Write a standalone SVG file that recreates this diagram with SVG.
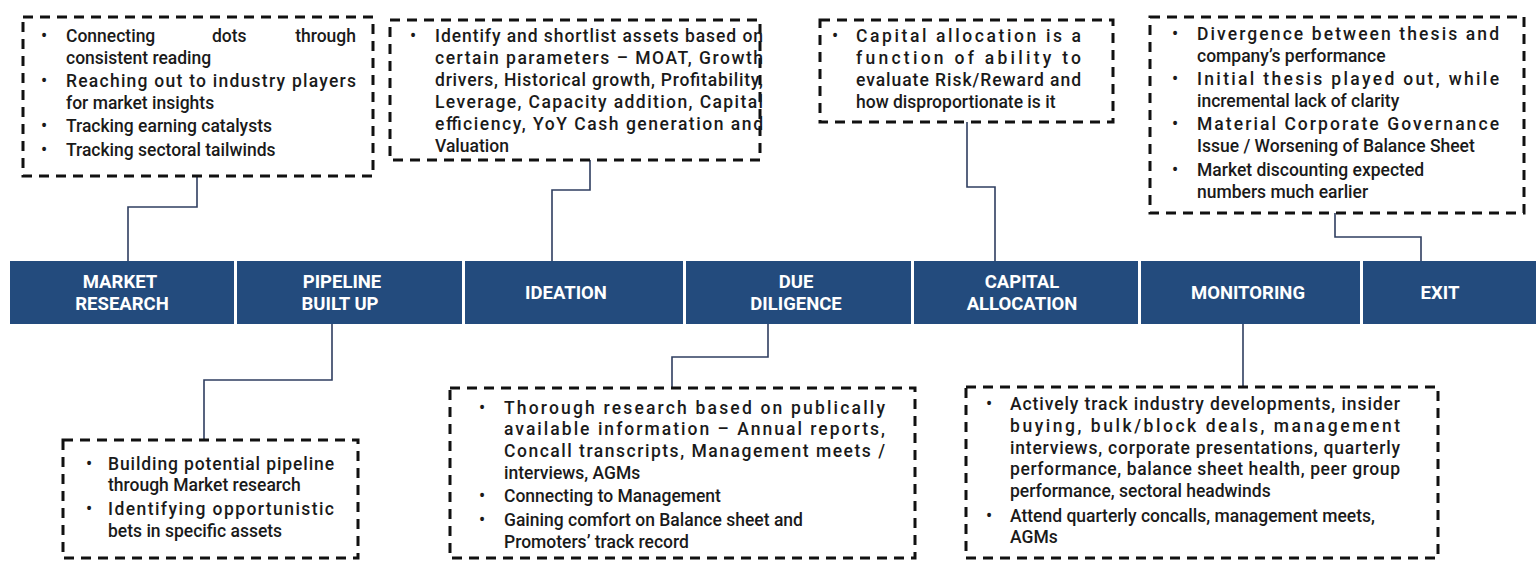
<svg xmlns="http://www.w3.org/2000/svg" width="1536" height="578" viewBox="0 0 1536 578">
<style>
.box{fill:#fff;stroke:#111;stroke-width:3;stroke-dasharray:10,7}
.t{font-family:Roboto,"Liberation Sans",sans-serif;font-size:17.5px;font-weight:500;fill:#1a1a1a}
.h{font-family:Roboto,"Liberation Sans",sans-serif;font-size:18.5px;font-weight:bold;fill:#fff;text-anchor:middle}
.c{fill:none;stroke:#2f3e60;stroke-width:1.6}
.seg{fill:#234b7d}
</style>
<g id="band">
<rect class="seg" x="10" y="261" width="224" height="63"/>
<rect class="seg" x="237" y="261" width="225" height="63"/>
<rect class="seg" x="465" y="261" width="218" height="63"/>
<rect class="seg" x="686" y="261" width="225" height="63"/>
<rect class="seg" x="914" y="261" width="224" height="63"/>
<rect class="seg" x="1141" y="261" width="219" height="63"/>
<rect class="seg" x="1363" y="261" width="173" height="63"/>
<text class="h" x="120" y="288">MARKET</text><text class="h" x="122" y="310">RESEARCH</text>
<text class="h" x="342" y="288">PIPELINE</text><text class="h" x="340" y="310">BUILT UP</text>
<text class="h" x="566" y="299">IDEATION</text>
<text class="h" x="796" y="288">DUE</text><text class="h" x="796" y="310">DILIGENCE</text>
<text class="h" x="1022" y="288">CAPITAL</text><text class="h" x="1022" y="310">ALLOCATION</text>
<text class="h" x="1248" y="299">MONITORING</text>
<text class="h" x="1440" y="299">EXIT</text>
</g>
<g id="connectors">
<path class="c" d="M197 176V207H128V261"/>
<path class="c" d="M590 160V190H552V261"/>
<path class="c" d="M967 122V187H995V261"/>
<path class="c" d="M1335 213V237H1421V261"/>
<path class="c" d="M332 324V380H204V440"/>
<path class="c" d="M768 324V357H672V388"/>
<path class="c" d="M1243 324V408"/>
</g>
<g id="box-market">
<rect class="box" x="23" y="17" width="350" height="159"/>
<g class="t">
<text x="41" y="42">•</text><text x="66" y="42">Connecting</text><text x="212" y="42">dots</text><text x="356" y="42" text-anchor="end">through</text>
<text x="66" y="64">consistent reading</text>
<text x="41" y="87">•</text><text x="66" y="87" textLength="290" lengthAdjust="spacing">Reaching out to industry players</text>
<text x="66" y="109">for market insights</text>
<text x="41" y="132">•</text><text x="66" y="132">Tracking earning catalysts</text>
<text x="41" y="156">•</text><text x="66" y="156">Tracking sectoral tailwinds</text>
</g>
</g>
<g id="box-ideation">
<rect class="box" x="390" y="20" width="370" height="140"/>
<g class="t">
<text x="410" y="42">•</text><text x="435" y="42" textLength="328" lengthAdjust="spacing">Identify and shortlist assets based on</text>
<text x="435" y="64" textLength="328" lengthAdjust="spacing">certain parameters – MOAT, Growth</text>
<text x="435" y="86" textLength="328" lengthAdjust="spacing">drivers, Historical growth, Profitability,</text>
<text x="435" y="108" textLength="328" lengthAdjust="spacing">Leverage, Capacity addition, Capital</text>
<text x="435" y="130" textLength="328" lengthAdjust="spacing">efficiency, YoY Cash generation and</text>
<text x="435" y="152">Valuation</text>
</g>
</g>
<g id="box-capital">
<rect class="box" x="820" y="20" width="293" height="102"/>
<g class="t">
<text x="832" y="42">•</text><text x="856" y="42" textLength="225" lengthAdjust="spacing">Capital allocation is a</text>
<text x="856" y="64" textLength="225" lengthAdjust="spacing">function of ability to</text>
<text x="856" y="86" textLength="225" lengthAdjust="spacing">evaluate Risk/Reward and</text>
<text x="856" y="108">how disproportionate is it</text>
</g>
</g>
<g id="box-exit">
<rect class="box" x="1150" y="17" width="374" height="196"/>
<g class="t">
<text x="1172" y="40">•</text><text x="1197" y="40" textLength="302" lengthAdjust="spacing">Divergence between thesis and</text>
<text x="1197" y="62">company’s performance</text>
<text x="1172" y="85">•</text><text x="1197" y="85" textLength="302" lengthAdjust="spacing">Initial thesis played out, while</text>
<text x="1197" y="107">incremental lack of clarity</text>
<text x="1172" y="130">•</text><text x="1197" y="130" textLength="302" lengthAdjust="spacing">Material Corporate Governance</text>
<text x="1197" y="152">Issue / Worsening of Balance Sheet</text>
<text x="1172" y="176">•</text><text x="1197" y="176">Market discounting expected</text>
<text x="1197" y="198">numbers much earlier</text>
</g>
</g>
<g id="box-pipeline">
<rect class="box" x="63" y="440" width="295" height="118"/>
<g class="t">
<text x="86" y="470">•</text><text x="108" y="470" textLength="226" lengthAdjust="spacing">Building potential pipeline</text>
<text x="108" y="491">through Market research</text>
<text x="86" y="515">•</text><text x="108" y="515" textLength="226" lengthAdjust="spacing">Identifying opportunistic</text>
<text x="108" y="537">bets in specific assets</text>
</g>
</g>
<g id="box-due">
<rect class="box" x="450" y="388" width="465" height="170"/>
<g class="t">
<text x="479" y="414">•</text><text x="504" y="414" textLength="381" lengthAdjust="spacing">Thorough research based on publically</text>
<text x="504" y="435" textLength="381" lengthAdjust="spacing">available information – Annual reports,</text>
<text x="504" y="457" textLength="381" lengthAdjust="spacing">Concall transcripts, Management meets /</text>
<text x="504" y="479">interviews, AGMs</text>
<text x="479" y="502">•</text><text x="504" y="502">Connecting to Management</text>
<text x="479" y="526">•</text><text x="504" y="526">Gaining comfort on Balance sheet and</text>
<text x="504" y="548">Promoters’ track record</text>
</g>
</g>
<g id="box-monitoring">
<rect class="box" x="966" y="387" width="472" height="171"/>
<g class="t">
<text x="986" y="410">•</text><text x="1010" y="410" textLength="390" lengthAdjust="spacing">Actively track industry developments, insider</text>
<text x="1010" y="432" textLength="390" lengthAdjust="spacing">buying, bulk/block deals, management</text>
<text x="1010" y="454" textLength="390" lengthAdjust="spacing">interviews, corporate presentations, quarterly</text>
<text x="1010" y="475" textLength="390" lengthAdjust="spacing">performance, balance sheet health, peer group</text>
<text x="1010" y="497">performance, sectoral headwinds</text>
<text x="986" y="522">•</text><text x="1010" y="522">Attend quarterly concalls, management meets,</text>
<text x="1010" y="543">AGMs</text>
</g>
</g>
</svg>
